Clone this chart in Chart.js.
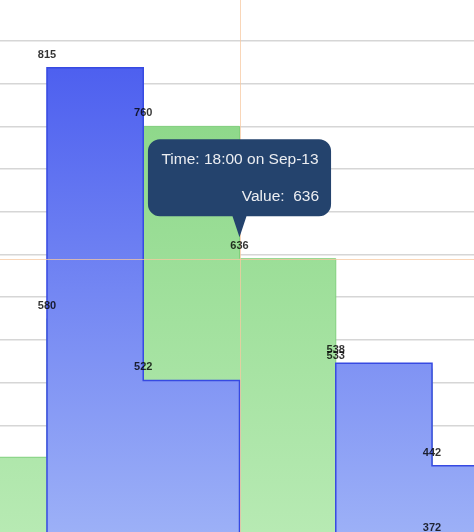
<!DOCTYPE html>
<html>
<head>
<meta charset="utf-8">
<title>Lectures</title>
<script src="https://cdn.jsdelivr.net/npm/chart.js@4.4.1/dist/chart.umd.min.js"></script>
<style>
    html, body { margin: 0; padding: 0; background: #fff; }
    #wrap { width: 474px; height: 532px; }
</style>
</head>
<body>
<div id="wrap"><canvas id="myChart"></canvas></div>
<script>
// Données
var heures = ['15:00', '16:00', '17:00', '18:00', '19:00', '20:00', '21:00'];
var jours = ['Sep-13', 'Sep-13', 'Sep-13', 'Sep-13', 'Sep-13', 'Sep-13', 'Sep-13'];
var valeursBleu = [340, 815, 522, 355, 538, 442, 470];
var valeursVert = [450, 580, 760, 636, 533, 372, 410];
var pointActif = 3; // point survolé (série verte)

// Zone visible (graphique zoomé)
var xMin = 0.512, xMax = 5.436;
var yMin = 380, yMax = 878.4;
var pasGrille = 40;

var police = '"Helvetica Neue", Helvetica, "Liberation Sans", Arial, sans-serif';

function versPoints(valeurs) {
    return valeurs.map((v, i) => ({ x: i, y: v }));
}

// Dégradé vertical sur toute la zone du graphique
function degrade(context, haut, bas) {
    var chart = context.chart;
    var area = chart.chartArea;
    if (!area) return haut;
    var g = chart.ctx.createLinearGradient(0, area.top, 0, area.bottom);
    g.addColorStop(0, haut);
    g.addColorStop(1, bas);
    return g;
}

// Réticule + valeurs au-dessus des points
var etiquettes = {
    id: 'etiquettes',
    afterDatasetsDraw: function(chart) {
        var ctx = chart.ctx;
        var area = chart.chartArea;
        var actif = chart.getDatasetMeta(1).data[pointActif];

        ctx.save();
        ctx.strokeStyle = 'rgba(247, 200, 160, 0.75)';
        ctx.lineWidth = 1;
        ctx.beginPath();
        ctx.moveTo(Math.round(actif.x) + 0.5, area.top);
        ctx.lineTo(Math.round(actif.x) + 0.5, area.bottom);
        ctx.moveTo(area.left, Math.round(actif.y) + 0.5);
        ctx.lineTo(area.right, Math.round(actif.y) + 0.5);
        ctx.stroke();

        ctx.font = 'bold 11px ' + police;
        ctx.fillStyle = 'rgba(0, 0, 0, 0.8)';
        ctx.textAlign = 'center';
        ctx.textBaseline = 'middle';
        chart.data.datasets.forEach(function(ds, i) {
            chart.getDatasetMeta(i).data.forEach(function(pt, j) {
                if (!isFinite(pt.x) || !isFinite(pt.y)) return;
                ctx.fillText(ds.data[j].y, pt.x, pt.y - 13);
            });
        });
        ctx.restore();
    },
    afterDraw: function(chart) {
        // Infobulle fixe sur le point actif
        var ctx = chart.ctx;
        var actif = chart.getDatasetMeta(1).data[pointActif];
        var titre = 'Time: ' + heures[pointActif] + ' on ' + jours[pointActif];
        var corps = 'Value:  ' + valeursVert[pointActif];

        ctx.save();
        ctx.font = '15.5px ' + police;
        var larg = Math.max(ctx.measureText(titre).width, ctx.measureText(corps).width) + 26;
        var haut = 77, r = 12, pointe = 21, demi = 7;
        var bout = actif.y - 21.6;
        var bas = bout - pointe;
        var gauche = actif.x - larg / 2;
        var droite = gauche + larg;
        var top = bas - haut;

        ctx.fillStyle = '#24436d';
        ctx.beginPath();
        ctx.moveTo(gauche + r, top);
        ctx.lineTo(droite - r, top);
        ctx.arcTo(droite, top, droite, top + r, r);
        ctx.lineTo(droite, bas - r);
        ctx.arcTo(droite, bas, droite - r, bas, r);
        ctx.lineTo(actif.x + demi, bas);
        ctx.lineTo(actif.x, bout);
        ctx.lineTo(actif.x - demi, bas);
        ctx.lineTo(gauche + r, bas);
        ctx.arcTo(gauche, bas, gauche, bas - r, r);
        ctx.lineTo(gauche, top + r);
        ctx.arcTo(gauche, top, gauche + r, top, r);
        ctx.closePath();
        ctx.fill();

        ctx.fillStyle = '#eceef2';
        ctx.textBaseline = 'middle';
        ctx.textAlign = 'left';
        ctx.fillText(titre, gauche + 13.5, top + 21);
        ctx.textAlign = 'right';
        ctx.fillText(corps, droite - 12, top + 58);
        ctx.restore();
    }
};

var ctx = document.getElementById('myChart').getContext('2d');
var myChart = new Chart(ctx, {
    type: 'line',
    data: {
        datasets: [{
            label: 'Bleu',
            data: versPoints(valeursBleu),
            stepped: true,
            fill: 'start',
            backgroundColor: c => degrade(c, 'rgb(66, 84, 238)', 'rgb(156, 176, 247)'),
            borderColor: 'rgb(55, 74, 226)',
            borderWidth: 1.5,
            pointRadius: 0
        }, {
            label: 'Vert',
            data: versPoints(valeursVert),
            stepped: true,
            fill: 'start',
            backgroundColor: c => degrade(c, 'rgb(130, 211, 126)', 'rgb(183, 234, 179)'),
            borderColor: 'rgb(128, 208, 124)',
            borderWidth: 1,
            pointRadius: 0
        }]
    },
    options: {
        responsive: true,
        maintainAspectRatio: false,
        animation: false,
        events: [],
        layout: { padding: 0 },
        plugins: {
            legend: { display: false },
            tooltip: { enabled: false }
        },
        scales: {
            x: {
                type: 'linear',
                display: false,
                min: xMin,
                max: xMax
            },
            y: {
                min: yMin,
                max: yMax,
                ticks: { display: false, stepSize: pasGrille },
                afterBuildTicks: function(axis) {
                    axis.ticks = axis.ticks.filter(t => t.value % pasGrille === 0);
                },
                border: { display: false },
                grid: { color: '#d6d6d6', lineWidth: 1.5, drawTicks: false }
            }
        }
    },
    plugins: [etiquettes]
});
</script>
</body>
</html>
